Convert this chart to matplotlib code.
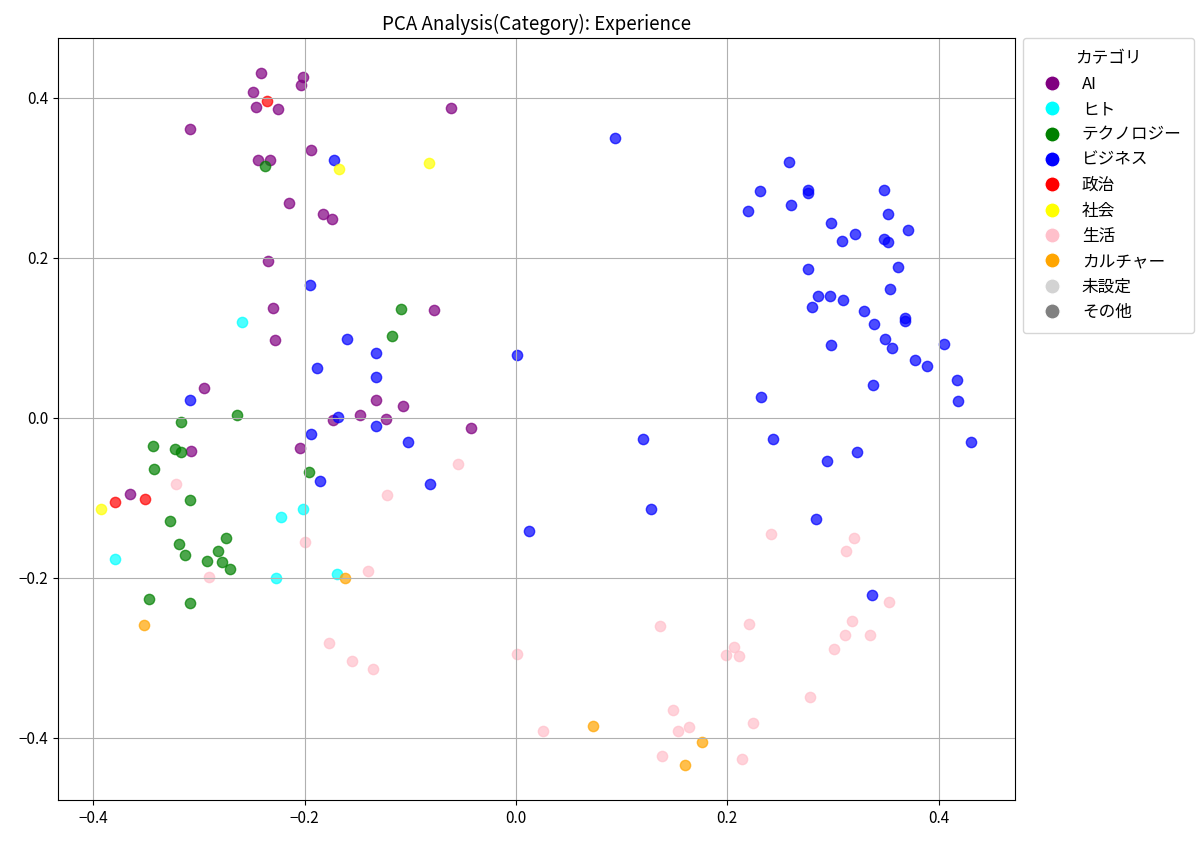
import matplotlib
matplotlib.use("Agg")
import matplotlib.pyplot as plt
from matplotlib.lines import Line2D

plt.rcParams['font.family'] = ['Noto Sans CJK JP', 'DejaVu Sans']

categories = ["AI", "ヒト", "テクノロジー", "ビジネス", "政治", "社会", "生活", "カルチャー", "未設定", "その他"]
colors = ["purple", "cyan", "green", "blue", "red", "yellow", "pink", "orange", "lightgray", "gray"]

ai_x = [-0.2414, -0.2016, -0.2035, -0.249, -0.246, -0.2253, -0.0615, -0.3086, -0.194, -0.244,
        -0.2328, -0.2149, -0.1827, -0.1742, -0.2347, -0.2297, -0.0776, -0.2284, -0.2953, -0.1325,
        -0.107, -0.1474, -0.1234, -0.1732, -0.0426, -0.2048, -0.3076, -0.3651]
ai_y = [0.431, 0.426, 0.416, 0.4075, 0.389, 0.386, 0.3875, 0.361, 0.335, 0.3225,
        0.3225, 0.269, 0.255, 0.249, 0.196, 0.1379, 0.135, 0.0971, 0.0379, 0.022,
        0.015, 0.0034, -0.001, -0.003, -0.013, -0.038, -0.0416, -0.0946]

hito_x = [-0.2596, -0.2019, -0.2227, -0.3796, -0.2269, -0.1694]
hito_y = [0.12, -0.1138, -0.1241, -0.1759, -0.2004, -0.1946]

tech_x = [-0.2379, -0.1088, -0.1177, -0.2644, -0.3171, -0.3433, -0.3228, -0.3174, -0.1959, -0.3424,
          -0.3086, -0.3278, -0.2745, -0.3187, -0.3136, -0.2821, -0.2925, -0.2786, -0.2707, -0.3474,
          -0.3089]
tech_y = [0.3154, 0.1363, 0.1025, 0.0041, -0.005, -0.035, -0.0391, -0.0425, -0.0675, -0.0638,
          -0.1021, -0.1288, -0.15, -0.157, -0.1713, -0.1663, -0.1791, -0.1804, -0.1891, -0.2263,
          -0.2316]

biz_x = [-0.1726, -0.1947, -0.16, -0.1328, -0.1884, -0.1328, 0.0006, -0.1685, -0.1322, -0.1943,
         -0.1025, -0.1858, -0.0811, 0.012, -0.3086, 0.094, 0.231, 0.2199, 0.2581, 0.2767,
         0.2767, 0.26, 0.3483, 0.3521, 0.2985, 0.3212, 0.3083, 0.3483, 0.3521, 0.3707,
         0.2767, 0.3616, 0.3537, 0.2861, 0.2972, 0.3092, 0.2805, 0.3297, 0.3389, 0.3682,
         0.3682, 0.2982, 0.349, 0.3562, 0.4048, 0.3777, 0.3893, 0.4177, 0.4184, 0.3376,
         0.4307, 0.2433, 0.3228, 0.2941, 0.2837, 0.2322, 0.1205, 0.1278, 0.337]
biz_y = [0.3229, 0.1666, 0.0984, 0.0816, 0.0625, 0.0516, 0.0784, 0.001, -0.01, -0.0196,
         -0.0304, -0.0791, -0.0825, -0.1416, 0.0221, 0.35, 0.2834, 0.2591, 0.32, 0.2854,
         0.281, 0.266, 0.2846, 0.2546, 0.2441, 0.23, 0.2212, 0.2234, 0.22, 0.2354,
         0.1859, 0.1892, 0.1617, 0.152, 0.1525, 0.1479, 0.1384, 0.1338, 0.1179, 0.1254,
         0.1209, 0.0909, 0.0984, 0.0879, 0.0921, 0.0721, 0.0654, 0.0471, 0.0209, 0.0416,
         -0.0296, -0.0259, -0.0425, -0.0541, -0.1263, 0.0259, -0.0266, -0.1141, -0.2216]

pol_x = [-0.236, -0.3798, -0.3514]
pol_y = [0.396, -0.1054, -0.1009]

soc_x = [-0.1675, -0.082, -0.3931]
soc_y = [0.3117, 0.319, -0.1134]

life_x = [-0.0549, -0.1218, -0.2, -0.3221, -0.2909, -0.1401, -0.1767, -0.1555, -0.1354, 0.0006,
          0.1366, 0.2208, 0.2063, 0.1988, 0.2111, 0.1483, 0.0258, 0.1536, 0.1637, 0.224,
          0.1385, 0.2139, 0.3121, 0.3199, 0.2416, 0.353, 0.318, 0.3114, 0.3354, 0.3013, 0.278]
life_y = [-0.0571, -0.0963, -0.155, -0.0825, -0.1991, -0.1913, -0.2813, -0.3034, -0.3134, -0.2954,
          -0.2604, -0.2579, -0.2859, -0.2959, -0.2979, -0.3654, -0.3913, -0.3916, -0.3866, -0.3816,
          -0.4221, -0.4263, -0.1659, -0.1504, -0.145, -0.2296, -0.2541, -0.2709, -0.2709, -0.2891, -0.3488]

cul_x = [-0.3524, -0.1619, 0.0732, 0.176, 0.1597]
cul_y = [-0.2588, -0.2004, -0.3846, -0.4054, -0.4338]

series = [
    ("AI", ai_x, ai_y),
    ("ヒト", hito_x, hito_y),
    ("テクノロジー", tech_x, tech_y),
    ("ビジネス", biz_x, biz_y),
    ("政治", pol_x, pol_y),
    ("社会", soc_x, soc_y),
    ("生活", life_x, life_y),
    ("カルチャー", cul_x, cul_y),
]
color_map = dict(zip(categories, colors))

fig = plt.figure(figsize=(12, 8.41), dpi=100)
ax = fig.add_axes([58/1200, 1-800/841, (1015-58)/1200, (800-38)/841])

for name, xs, ys in series:
    ax.scatter(xs, ys, c=color_map[name], alpha=0.7, s=55)

ax.set_xlim(-0.4335, 0.4723)
ax.set_ylim(-0.4775, 0.475)
ax.set_xticks([-0.4, -0.2, 0.0, 0.2, 0.4])
ax.set_yticks([-0.4, -0.2, 0.0, 0.2, 0.4])
ax.tick_params(labelsize=11)
ax.grid(True)
ax.set_title("PCA Analysis(Category): Experience", fontsize=13.5)

handles = [Line2D([0], [0], marker='o', color='w', markerfacecolor=c, markersize=11, label=n)
           for n, c in zip(categories, colors)]
ax.legend(handles=handles, title="カテゴリ", bbox_to_anchor=(1.008, 1.0), loc='upper left',
          borderaxespad=0, borderpad=0.75, fontsize=12, title_fontsize=12)

fig.savefig("out.png", dpi=100)
